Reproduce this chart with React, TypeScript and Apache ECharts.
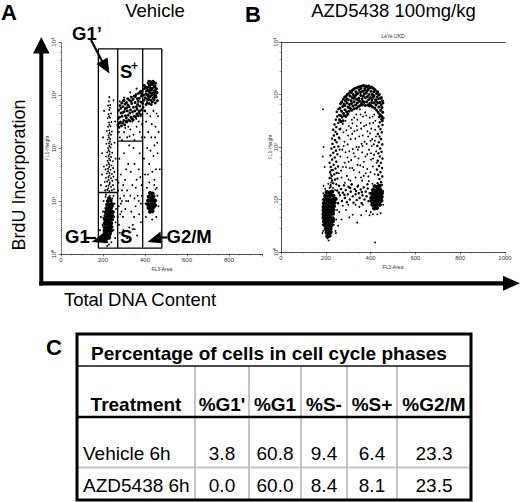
import React, { useEffect, useRef } from "react";
import * as echarts from "echarts";

const FONT = "'Liberation Sans', Arial, Helvetica, sans-serif";

// ---------- axis ticks ----------
const X_TICKS = [0, 200, 400, 600, 800, 1000];
const LOG_SUP = ["\u2070", "\u00b9", "\u00b2", "\u00b3", "\u2074"];
const PANEL_TITLES = ["Vehicle", "AZD5438 100mg/kg"];
const X_NAME = "FL3-Area";
const Y_NAME = "FL1-Height";
const B_TOP_NAME = "LeYe.UKD";

// ---------- gates of panel A (x in FL3 units, y as log10 of FL1) ----------
const GATE_X = [178, 270, 389, 480];
const GATE_LOG_Y = [0.11, 3.87];
const GATE_G1_SPLIT = 1.16;
const GATE_S_SPLIT = 2.13;

// ---------- panel A (Vehicle) events: [FL3, log10 FL1] ----------
const A_G1_BLOB: number[][] = [
  [217, 0.3], [229, 0.31],
  [211, 0.37], [222, 0.36], [233, 0.38],
  [208, 0.44], [218, 0.43], [228, 0.45], [238, 0.44],
  [207, 0.51], [213, 0.48], [222, 0.5], [232, 0.52], [240, 0.51],
  [209, 0.58], [219, 0.57], [229, 0.59], [239, 0.58],
  [210, 0.65], [215, 0.62], [225, 0.64], [235, 0.66], [243, 0.65],
  [212, 0.72], [222, 0.71], [232, 0.73], [243, 0.72],
  [214, 0.79], [219, 0.76], [229, 0.78], [239, 0.8], [246, 0.79],
  [217, 0.86], [227, 0.85], [238, 0.87],
  [220, 0.93], [231, 0.92], [242, 0.94],
  [224, 1.0], [236, 1.01], [229, 1.05],
];
const A_G2_BLOB: number[][] = [
  [424, 0.8], [436, 0.81],
  [417, 0.87], [428, 0.86], [440, 0.88],
  [414, 0.94], [420, 0.91], [431, 0.93], [442, 0.95], [448, 0.92],
  [415, 1.01], [426, 1.0], [437, 1.02], [448, 1.01],
  [418, 1.08], [429, 1.07], [440, 1.09],
  [424, 1.15], [436, 1.14],
];
const A_SPLUS_TOP: number[][] = [
  [412, 3.0], [424, 2.97], [436, 3.03], [449, 2.99], [418, 3.08], [431, 3.11],
  [444, 3.07], [455, 3.05], [409, 3.14], [422, 3.18], [435, 3.2], [447, 3.16],
  [428, 3.24], [440, 3.23], [416, 2.92], [442, 2.93],
];
const A_SPLUS_BAND: number[][] = [
  [271, 2.44], [274, 2.71], [276, 2.39], [279, 2.58], [281, 2.8], [283, 2.49],
  [286, 2.66], [288, 2.42], [289, 2.85], [273, 2.56], [285, 2.75], [278, 2.47],
  [291, 2.6], [293, 2.47], [295, 2.78], [297, 2.89], [299, 2.52], [301, 2.69],
  [303, 2.44], [305, 2.83], [307, 2.61], [309, 2.5], [294, 2.67], [300, 2.9], [306, 2.74],
  [311, 2.57], [312, 2.86], [314, 2.49], [316, 2.7], [318, 2.93], [320, 2.62],
  [322, 2.53], [324, 2.78], [326, 2.9], [328, 2.66], [313, 2.76], [319, 2.81], [329, 2.51],
  [331, 2.72], [333, 2.58], [335, 2.96], [337, 2.84], [339, 2.55], [341, 2.68],
  [343, 2.92], [345, 2.77], [347, 2.6], [349, 2.98], [334, 2.88], [344, 2.53],
  [351, 2.7], [353, 2.86], [355, 2.59], [357, 3.01], [359, 2.78], [361, 2.64],
  [363, 2.93], [365, 2.82], [367, 2.61], [369, 3.03], [354, 2.97], [362, 2.73], [368, 2.88],
  [371, 2.67], [373, 2.94], [375, 2.79], [377, 3.06], [379, 2.63], [381, 2.87],
  [383, 2.98], [385, 2.72], [387, 3.08], [389, 2.84], [374, 2.7], [384, 3.03],
  [391, 2.77], [393, 3.0], [395, 2.9], [397, 3.12], [399, 2.7], [401, 2.95],
  [403, 3.15], [405, 2.82], [407, 3.07], [409, 2.92], [396, 3.18], [404, 3.02],
  [411, 2.86], [413, 3.1], [415, 3.22], [417, 2.97], [419, 2.84], [421, 3.15],
  [423, 3.04], [425, 3.25], [427, 2.9], [429, 3.09], [431, 2.99], [433, 3.2],
  [435, 2.87], [437, 3.13], [439, 3.26], [441, 3.02], [443, 2.91], [445, 3.17],
  [447, 3.07], [449, 2.85], [451, 3.22], [453, 2.96], [455, 3.12], [457, 3.04],
  [459, 2.89], [414, 3.0], [426, 3.13], [438, 2.94], [450, 3.1], [418, 3.26],
  [442, 3.24], [430, 2.82], [446, 2.97],
];
const A_SPARSE: number[][] = [
  // G1' streak
  [210, 1.2], [220, 1.21], [230, 1.19], [242, 1.2], [252, 1.22], [225, 1.24],
  [215, 1.28], [226, 1.29], [238, 1.27], [248, 1.3], [232, 1.32],
  [208, 1.36], [220, 1.37], [232, 1.35], [244, 1.38], [227, 1.4],
  [214, 1.44], [226, 1.45], [238, 1.43], [250, 1.46], [231, 1.48],
  [218, 1.52], [230, 1.53], [242, 1.51], [224, 1.56],
  [212, 1.6], [224, 1.61], [236, 1.59], [248, 1.62], [229, 1.64],
  [218, 1.68], [230, 1.69], [240, 1.67], [226, 1.72],
  [222, 1.76], [234, 1.77], [246, 1.75], [229, 1.8],
  [214, 1.84], [226, 1.85], [238, 1.83], [231, 1.88],
  [220, 1.92], [232, 1.93], [244, 1.91], [227, 1.96],
  [224, 2.0], [236, 2.01], [230, 2.04],
  [216, 2.08], [228, 2.09], [240, 2.07], [233, 2.12],
  [222, 2.16], [234, 2.17], [228, 2.2],
  [226, 2.24], [238, 2.25], [231, 2.28],
  [218, 2.32], [230, 2.33], [242, 2.31],
  [224, 2.4], [236, 2.41], [230, 2.44],
  [228, 2.48], [240, 2.49],
  [222, 2.56], [233, 2.57], [228, 2.6],
  [226, 2.64], [238, 2.65],
  [230, 2.72], [233, 2.76],
  [224, 2.8], [234, 2.81],
  [228, 2.88], [230, 2.96],
  [195, 1.5], [200, 2.2], [260, 1.8], [258, 2.5], [190, 1.3], [205, 2.7],
  [250, 2.9], [262, 1.4], [196, 1.9], [255, 2.1], [204, 1.65], [254, 1.55],
  // G1 halo
  [195, 0.3], [198, 0.55], [200, 0.8], [203, 1.0], [250, 0.45], [253, 0.7],
  [255, 0.95], [250, 1.1], [240, 0.22], [208, 0.22], [228, 0.18], [260, 0.6],
  [190, 0.7], [245, 1.05], [212, 1.08], [232, 1.1], [185, 0.45], [262, 0.85],
  [220, 0.15], [258, 0.3], [204, 0.4], [248, 0.9], [201, 0.68], [214, 1.12],
  // S- gate
  [280, 0.4], [295, 0.7], [310, 1.0], [325, 0.5], [340, 1.3], [355, 0.9],
  [370, 1.6], [285, 1.5], [300, 1.9], [320, 1.7], [345, 2.0], [365, 1.1],
  [380, 0.6], [290, 1.2], [315, 0.3], [335, 0.8], [360, 1.4], [375, 1.9],
  [305, 1.4], [330, 1.1], [350, 1.7], [285, 0.95], [272, 1.2], [384, 1.3],
  [278, 1.8], [362, 0.35], [342, 0.55], [310, 1.6], [325, 2.05], [297, 0.45],
  [275, 0.9], [282, 1.05], [270, 0.7], [290, 1.0], [300, 1.1], [320, 1.0],
  [350, 1.05], [370, 1.0], [385, 1.1], [276, 0.55], [288, 0.8], [380, 0.95],
  [372, 0.75], [274, 1.35], [282, 0.75], [296, 1.3], [315, 1.2], [332, 1.55],
  [356, 1.25], [378, 1.45], [306, 0.85], [348, 0.7],
  // lower S+
  [280, 2.2], [300, 2.3], [315, 2.2], [330, 2.35], [345, 2.25], [360, 2.4],
  [375, 2.3], [290, 2.15], [350, 2.15], [370, 2.5], [320, 2.4], [340, 2.5],
  [385, 2.45], [300, 2.95], [330, 3.05], [360, 3.12], [280, 2.88], [385, 2.2],
  [310, 2.52], [276, 2.3], [326, 2.22], [358, 2.55], [380, 2.6], [306, 2.38],
  // G2/M column
  [400, 1.5], [420, 1.7], [445, 1.4], [460, 1.9], [410, 2.0], [430, 2.2],
  [450, 2.4], [405, 2.5], [425, 2.6], [465, 2.3], [440, 1.85], [415, 2.3],
  [455, 2.65], [395, 1.8], [435, 1.55], [470, 1.6], [400, 2.7], [445, 2.05],
  [420, 1.35], [456, 1.25], [432, 2.45], [410, 2.65], [448, 2.2], [462, 2.6],
  [398, 2.2], [452, 1.6], [426, 1.95], [414, 1.5], [440, 2.7], [458, 2.1],
  [404, 0.7], [409, 1.25], [454, 0.7], [459, 1.1], [444, 1.3], [402, 0.95],
  [464, 0.9], [434, 0.65], [450, 1.22],
];

// ---------- panel B (AZD5438) events ----------
const B_G1_BLOB: number[][] = [
  [208, 0.3], [216, 0.31],
  [204, 0.37], [214, 0.36], [222, 0.38],
  [200, 0.44], [210, 0.43], [220, 0.45],
  [196, 0.51], [206, 0.5], [216, 0.52], [226, 0.51],
  [192, 0.58], [202, 0.57], [212, 0.59], [222, 0.58], [232, 0.59],
  [190, 0.65], [200, 0.64], [210, 0.66], [220, 0.65], [231, 0.64],
  [190, 0.72], [200, 0.71], [210, 0.73], [220, 0.72], [232, 0.73],
  [190, 0.79], [201, 0.78], [212, 0.8], [223, 0.79], [234, 0.8],
  [191, 0.86], [202, 0.85], [213, 0.87], [224, 0.86], [236, 0.87],
  [192, 0.93], [204, 0.92], [216, 0.94], [228, 0.93], [239, 0.94],
  [194, 1.0], [206, 0.99], [218, 1.01], [230, 1.0], [242, 1.01],
  [198, 1.07], [210, 1.06], [222, 1.08], [234, 1.07],
  [204, 1.14], [216, 1.13], [228, 1.15],
];
const B_G2_BLOB: number[][] = [
  [416, 0.83], [428, 0.84],
  [408, 0.9], [419, 0.89], [430, 0.91], [441, 0.9],
  [405, 0.97], [416, 0.96], [427, 0.98], [438, 0.97], [448, 0.98],
  [405, 1.04], [416, 1.03], [427, 1.05], [438, 1.04], [449, 1.05],
  [407, 1.11], [418, 1.1], [429, 1.12], [440, 1.11], [450, 1.12],
  [411, 1.18], [422, 1.17], [433, 1.19], [444, 1.18],
  [418, 1.25], [430, 1.24], [441, 1.26],
];
const B_ARCH_BAND: number[][] = [
  [261, 2.52], [263, 2.74], [265, 2.6], [266, 2.83], [268, 2.48], [270, 2.68],
  [271, 2.86], [273, 2.57], [275, 2.77], [277, 2.5], [278, 2.91], [279, 2.64],
  [281, 2.82], [283, 2.6], [284, 2.95], [286, 2.71], [288, 2.88], [289, 2.58],
  [291, 2.97], [293, 2.67], [295, 2.84], [296, 3.0], [298, 2.63], [299, 2.76], [285, 2.79], [294, 2.92],
  [301, 2.9], [303, 3.02], [304, 2.68], [306, 2.81], [308, 2.97], [309, 3.06],
  [311, 2.73], [313, 2.88], [314, 3.04], [316, 2.7], [318, 2.94], [319, 3.08], [305, 2.75], [315, 2.83],
  [321, 2.78], [322, 3.0], [324, 3.1], [326, 2.86], [327, 2.73], [329, 2.96],
  [331, 3.12], [333, 2.8], [334, 3.05], [336, 2.91], [338, 2.74], [339, 3.13], [325, 2.93], [335, 2.99],
  [341, 2.84], [342, 3.02], [344, 3.14], [346, 2.77], [347, 2.93], [349, 3.08],
  [351, 2.87], [352, 3.15], [354, 2.79], [356, 2.98], [357, 3.11], [359, 2.83], [345, 2.9], [355, 3.04],
  [361, 3.16], [362, 2.92], [364, 2.8], [366, 3.06], [367, 2.97], [369, 3.17],
  [371, 2.85], [372, 3.01], [374, 3.12], [376, 2.79], [377, 2.94], [379, 3.16], [365, 2.87], [375, 3.08],
  [381, 3.03], [382, 2.86], [384, 3.15], [386, 2.96], [387, 2.8], [389, 3.1],
  [391, 2.9], [392, 3.16], [394, 3.0], [396, 2.83], [397, 3.13], [399, 2.94], [385, 3.07], [395, 2.78],
  [401, 3.06], [402, 2.79], [404, 3.14], [406, 2.9], [407, 3.0], [409, 2.76],
  [411, 3.12], [412, 2.95], [414, 3.05], [416, 2.84], [417, 3.1], [419, 2.74], [405, 2.85], [415, 2.98],
  [421, 3.08], [422, 2.9], [424, 2.8], [426, 3.02], [427, 2.7], [429, 2.95],
  [431, 3.05], [432, 2.84], [434, 2.66], [436, 2.99], [437, 2.76], [439, 3.0], [425, 2.87], [435, 2.92],
  [441, 2.62], [442, 2.85], [444, 2.93], [445, 2.7], [447, 2.8], [448, 2.94],
  [450, 2.58], [451, 2.75], [453, 2.88], [454, 2.66], [455, 2.84], [456, 2.55], [446, 2.6], [452, 2.5],
];
const B_WALLS: number[][] = [
  // left wall
  [221, 1.27], [233, 1.31], [247, 1.29], [228, 1.36], [241, 1.38], [217, 1.41],
  [252, 1.4], [226, 1.45], [238, 1.48], [219, 1.52], [249, 1.51], [231, 1.56],
  [243, 1.59], [222, 1.62], [255, 1.63], [235, 1.66], [217, 1.7], [247, 1.72],
  [228, 1.76], [240, 1.8], [221, 1.84], [252, 1.86], [233, 1.89], [245, 1.93],
  [225, 1.97], [238, 2.0], [256, 2.01], [230, 2.06], [248, 2.09], [241, 2.13],
  [228, 2.16], [259, 2.18], [236, 2.22], [250, 2.25], [243, 2.29], [233, 2.33],
  [262, 2.34], [247, 2.38], [239, 2.43], [256, 2.46], [265, 2.5], [245, 2.52],
  [251, 2.58], [260, 2.61], [249, 2.67], [256, 2.72],
  // right wall
  [431, 1.31], [447, 1.33], [439, 1.39], [452, 1.44], [434, 1.47], [444, 1.52],
  [428, 1.57], [451, 1.6], [438, 1.64], [446, 1.7], [432, 1.74], [453, 1.78],
  [441, 1.82], [435, 1.88], [449, 1.91], [443, 1.97], [430, 2.02], [452, 2.05],
  [437, 2.09], [446, 2.15], [440, 2.2], [432, 2.25], [450, 2.28], [444, 2.34],
  [436, 2.39], [453, 2.42], [441, 2.47], [448, 2.53], [438, 2.57],
  // bottom band G1 -> G2/M
  [246, 1.02], [251, 1.17], [255, 0.93], [259, 1.26], [263, 1.08], [268, 1.2],
  [272, 0.97], [276, 1.13], [281, 1.27], [285, 1.03], [289, 1.18], [294, 0.95],
  [298, 1.1], [302, 1.24], [307, 1.0], [311, 1.15], [316, 1.29], [320, 1.06],
  [324, 0.94], [329, 1.2], [333, 1.1], [338, 0.99], [342, 1.25], [347, 1.12],
  [351, 1.03], [356, 1.19], [360, 0.93], [364, 1.08], [369, 1.23], [373, 1.0],
  [378, 1.15], [382, 1.06], [387, 1.21], [391, 0.97], [396, 1.12], [399, 1.02],
  [258, 1.13], [283, 1.09], [309, 1.22], [335, 1.16], [361, 1.14], [386, 1.29],
];
const B_SPARSE: number[][] = [
  [270, 1.42], [290, 1.62], [310, 1.36], [330, 1.82], [350, 1.52], [370, 1.72],
  [390, 1.44], [410, 1.63], [280, 2.02], [300, 2.22], [320, 1.96], [340, 2.32],
  [360, 2.06], [380, 2.42], [400, 2.12], [420, 2.33], [276, 2.44], [296, 2.6],
  [316, 2.52], [336, 2.62], [356, 2.46], [376, 2.66], [396, 2.56], [416, 2.62],
  [265, 1.82], [285, 1.32], [305, 1.92], [325, 1.56], [345, 1.27], [365, 2.22],
  [385, 1.86], [405, 2.02], [425, 1.92], [262, 2.16], [302, 1.72], [362, 1.36],
  [397, 2.26], [332, 2.16], [352, 2.72], [312, 2.36], [382, 2.06], [342, 1.66],
  [292, 2.32], [272, 2.56], [412, 2.46], [322, 2.72], [367, 1.62], [402, 1.76],
  [288, 1.9], [318, 1.6], [348, 2.0], [378, 1.5], [408, 1.3], [415, 1.85],
  [258, 1.5],
  [268, 1.55], [274, 1.95], [279, 2.28], [284, 1.7], [288, 2.5], [294, 1.45],
  [298, 2.05], [303, 2.4], [307, 1.6], [311, 2.15], [314, 1.28], [319, 2.45],
  [324, 1.88], [328, 2.3], [333, 1.42], [337, 2.0], [341, 2.52], [346, 1.78],
  [349, 2.2], [354, 1.65], [358, 2.35], [362, 1.9], [366, 2.58], [369, 1.45],
  [373, 2.1], [377, 1.82], [381, 2.6], [385, 1.58], [389, 2.2], [393, 1.95],
  [396, 2.45], [399, 1.52], [403, 2.35], [407, 2.15], [411, 1.78], [414, 2.05],
  [418, 1.48], [421, 2.5], [424, 2.2], [427, 1.7], [283, 2.1], [297, 1.8],
  [313, 1.75], [327, 2.56], [343, 1.95], [357, 1.42], [371, 2.4], [386, 2.3],
  [401, 1.88], [419, 2.12], [276, 1.62], [301, 1.38], [338, 2.4], [364, 2.02],
  [392, 1.35], [409, 2.58], [262, 1.95], [266, 2.35], [355, 2.62], [318, 2.25],
  // around G1
  [208, 0.26], [213, 0.22], [201, 0.3], [188, 0.4], [186, 0.52], [186, 0.68],
  [186, 0.84], [187, 1.0], [189, 1.12], [246, 0.62], [250, 0.8], [249, 1.0],
  [241, 1.18], [232, 1.22], [216, 1.22], [226, 0.44], [236, 0.52], [221, 0.3],
  [197, 1.2], [211, 1.3], [190, 1.26], [185, 0.36], [243, 0.4],
  [222, 1.24], [223, 1.32], [224, 1.4], [222, 1.48], [224, 1.56],
  // around G2/M
  [400, 0.76], [445, 0.74], [456, 0.9], [456, 1.16], [398, 1.12], [430, 0.72],
  [410, 0.72], [452, 1.28],
  // below the band
  [260, 0.76], [290, 0.8], [320, 0.71], [350, 0.86], [380, 0.78], [270, 0.62],
  [305, 0.66], [340, 0.56], [300, 0.9], [365, 0.9], [255, 0.5], [395, 0.7],
  [245, 0.36], [276, 0.88], [333, 0.9], [358, 0.7],
  // strays
  [420, 0.18], [187, 2.72], [186, 1.82], [195, 1.62], [190, 2.0],
];

// ---------- table C ----------
const TABLE_TITLE = "Percentage of cells in cell cycle phases";
const TABLE_HEADERS = ["Treatment", "%G1'", "%G1", "%S-", "%S+", "%G2/M"];
const TREATMENTS = ["Vehicle 6h", "AZD5438 6h"];
const PCT_G1_PRIME = [3.8, 0.0];
const PCT_G1 = [60.8, 60.0];
const PCT_S_NEG = [9.4, 8.4];
const PCT_S_POS = [6.4, 8.1];
const PCT_G2M = [23.3, 23.5];

const toPts = (arr: number[][]) => arr.map(([x, l]) => [x, Math.pow(10, l)]);

function txt(text: string, x: number, baseline: number, fs: number, bold = false, align = "left") {
  return {
    type: "text",
    x,
    y: baseline - 0.35 * fs,
    z: 100,
    style: {
      text,
      fontSize: fs,
      fontFamily: FONT,
      fontWeight: bold ? "bold" : "normal",
      fill: "#000",
      align,
      verticalAlign: "middle",
    },
  };
}
function seg(x1: number, y1: number, x2: number, y2: number, w: number, color = "#000") {
  return { type: "line", z: 100, shape: { x1, y1, x2, y2 }, style: { stroke: color, lineWidth: w } };
}
function tri(points: number[][]) {
  return { type: "polygon", z: 100, shape: { points }, style: { fill: "#000" } };
}

function xAxisCfg(gridIndex: number, max: number) {
  return {
    type: "value",
    gridIndex,
    min: 0,
    max,
    interval: 200,
    axisLine: { show: true, onZero: false, lineStyle: { color: "#222", width: 0.8 } },
    axisTick: { show: true, length: 2.5, lineStyle: { color: "#222", width: 0.6 } },
    minorTick: { show: true, splitNumber: 4, length: 1.5, lineStyle: { color: "#555", width: 0.5 } },
    axisLabel: {
      fontSize: 6,
      color: "#333",
      margin: 3,
      formatter: (v: number) => (X_TICKS.includes(v) ? String(v) : ""),
    },
    splitLine: { show: false },
    name: X_NAME,
    nameLocation: "middle",
    nameGap: 12,
    nameTextStyle: { fontSize: 5, color: "#333" },
  };
}
function yAxisCfg(gridIndex: number, dotted: boolean, labelMargin: number, nameGap: number) {
  return {
    type: "log",
    logBase: 10,
    gridIndex,
    min: 1,
    max: 10000,
    axisLine: {
      show: true,
      onZero: false,
      lineStyle: { color: dotted ? "#555" : "#222", width: dotted ? 1 : 0.8, type: dotted ? "dotted" : "solid" },
    },
    axisTick: { show: true, length: 2.5, lineStyle: { color: "#333", width: 0.6 } },
    minorTick: { show: true, splitNumber: 5, length: 1.5, lineStyle: { color: "#555", width: 0.5 } },
    axisLabel: {
      rotate: 90,
      fontSize: 6,
      color: "#333",
      margin: labelMargin,
      formatter: (v: number) => "10" + LOG_SUP[Math.round(Math.log10(v))],
    },
    splitLine: { show: false },
    name: Y_NAME,
    nameLocation: "middle",
    nameGap,
    nameTextStyle: { fontSize: 5, color: "#333" },
  };
}

function scatter(data: number[][], xAxisIndex: number, yAxisIndex: number, size: number) {
  return {
    type: "scatter",
    xAxisIndex,
    yAxisIndex,
    data: toPts(data),
    symbol: "circle",
    symbolSize: size,
    itemStyle: { color: "#000", opacity: 1 },
    silent: true,
    z: 2,
  };
}
function gateLine(points: number[][]) {
  return {
    type: "line",
    xAxisIndex: 0,
    yAxisIndex: 0,
    data: points,
    symbol: "none",
    lineStyle: { color: "#000", width: 1.3 },
    silent: true,
    z: 5,
  };
}

function buildOption() {
  const [gx0, gx1, gx2, gx3] = GATE_X;
  const yb = Math.pow(10, GATE_LOG_Y[0]);
  const yt = Math.pow(10, GATE_LOG_Y[1]);
  const yG1 = Math.pow(10, GATE_G1_SPLIT);
  const yS = Math.pow(10, GATE_S_SPLIT);

  const g: any[] = [];
  // panel letters and titles
  g.push(txt("A", 1, 20, 22, true));
  g.push(txt("B", 245, 22, 22, true));
  g.push(txt("C", 46, 355, 22, true));
  g.push(txt(PANEL_TITLES[0], 155, 16.5, 18.5, false, "center"));
  g.push(txt(PANEL_TITLES[1], 393.5, 16.5, 18.5, false, "center"));
  // big axis arrows
  g.push(seg(41.3, 285.5, 41.3, 50, 4));
  g.push(tri([[41.3, 37], [33, 53.5], [49.6, 53.5]]));
  g.push(seg(39.3, 283.3, 505, 283.3, 4.3));
  g.push(tri([[520, 283.3], [503, 275.8], [503, 290.8]]));
  g.push({
    type: "text",
    x: 18.5,
    y: 175,
    rotation: Math.PI / 2,
    z: 100,
    style: { text: "BrdU Incorporation", fontSize: 18, fontFamily: FONT, fill: "#000", align: "center", verticalAlign: "middle" },
  });
  g.push(txt("Total DNA Content", 140, 306, 18.5, false, "center"));
  // gate labels
  g.push(txt("G1\u2019", 72, 40, 18.5, true));
  g.push(seg(91, 40, 102, 61, 2.2));
  g.push(tri([[109.5, 73.5], [96.5, 64], [107.5, 57.5]]));
  g.push(txt("S", 120, 78, 18.5, true));
  g.push(txt("+", 131, 70, 12, true));
  g.push(txt("G1", 65, 243, 18.5, true));
  g.push(seg(86, 238, 96, 238, 2.2));
  g.push(tri([[91.7, 242], [105, 231.5], [108.3, 243.3]]));
  g.push(txt("S", 120, 243, 18.5, true));
  g.push(txt("-", 131.5, 233, 13, true));
  g.push(txt("G2/M", 166.5, 243, 18.5, true));
  g.push(seg(157, 237.5, 167, 237.5, 2.2));
  g.push(tri([[147.5, 242], [160.5, 231.5], [161.5, 243.3]]));

  // table
  const colEdges = [77, 195, 249, 301, 347, 397, 471];
  const top = 334, titleBottom = 366, headBottom = 417, rowSep = 467.5, bottom = 500;
  const gray = "#c4c4c4";
  for (let i = 1; i < colEdges.length - 1; i++) g.push(seg(colEdges[i], titleBottom, colEdges[i], bottom, 2, gray));
  g.push(seg(colEdges[0], rowSep, colEdges[6], rowSep, 2, gray));
  g.push(seg(colEdges[0], titleBottom, colEdges[6], titleBottom, 1.6, "#111"));
  g.push(seg(colEdges[0], headBottom, colEdges[6], headBottom, 2.4, "#000"));
  g.push({
    type: "rect",
    z: 101,
    shape: { x: colEdges[0], y: top, width: colEdges[6] - colEdges[0], height: bottom - top },
    style: { fill: "none", stroke: "#000", lineWidth: 3 },
  });
  g.push(txt(TABLE_TITLE, 91, 360, 19, true));
  TABLE_HEADERS.forEach((h, i) => {
    g.push(txt(h, (colEdges[i] + colEdges[i + 1]) / 2, 411, 19, true, "center"));
  });
  const rowBase = [460, 492];
  const cols = [PCT_G1_PRIME, PCT_G1, PCT_S_NEG, PCT_S_POS, PCT_G2M];
  TREATMENTS.forEach((t, r) => {
    g.push(txt(t, 83, rowBase[r], 19, false, "left"));
    cols.forEach((c, i) => {
      g.push(txt(c[r].toFixed(1), (colEdges[i + 1] + colEdges[i + 2]) / 2, rowBase[r], 19, false, "center"));
    });
  });

  return {
    animation: false,
    textStyle: { fontFamily: FONT },
    grid: [
      { left: 61, top: 42, width: 201.6, height: 212 },
      { left: 281, top: 42, width: 224, height: 210 },
    ],
    xAxis: [
      xAxisCfg(0, 960),
      xAxisCfg(1, 1000),
      {
        type: "value",
        gridIndex: 1,
        position: "top",
        min: 0,
        max: 1000,
        axisLine: { show: true, onZero: false, lineStyle: { color: "#222", width: 0.8 } },
        axisTick: { show: false },
        axisLabel: { show: false },
        splitLine: { show: false },
        name: B_TOP_NAME,
        nameLocation: "middle",
        nameGap: 4,
        nameTextStyle: { fontSize: 5, color: "#333" },
      },
    ],
    yAxis: [yAxisCfg(0, true, 4, 12), yAxisCfg(1, false, 2, 9)],
    series: [
      scatter(A_SPARSE, 0, 0, 1.8),
      scatter(A_SPLUS_BAND, 0, 0, 2.9),
      scatter(A_G1_BLOB, 0, 0, 4.2),
      scatter(A_G2_BLOB, 0, 0, 4.2),
      scatter(A_SPLUS_TOP, 0, 0, 3.4),
      gateLine([[gx0, yb], [gx3, yb], [gx3, yt], [gx0, yt], [gx0, yb]]),
      gateLine([[gx1, yb], [gx1, yt]]),
      gateLine([[gx2, yb], [gx2, yt]]),
      gateLine([[gx0, yG1], [gx1, yG1]]),
      gateLine([[gx1, yS], [gx2, yS]]),
      scatter(B_SPARSE, 1, 1, 1.8),
      scatter(B_WALLS, 1, 1, 2.5),
      scatter(B_ARCH_BAND, 1, 1, 3.0),
      scatter(B_G1_BLOB, 1, 1, 4.3),
      scatter(B_G2_BLOB, 1, 1, 4.3),
    ],
    graphic: { elements: g },
  };
}

export default function App() {
  const ref = useRef<HTMLDivElement>(null);
  useEffect(() => {
    document.body.style.margin = "0";
    const chart = echarts.init(ref.current as HTMLDivElement, null, { renderer: "svg" });
    chart.setOption(buildOption() as any);
    return () => chart.dispose();
  }, []);
  return (
    <div
      ref={ref}
      style={{ position: "absolute", left: 0, top: 0, width: 520, height: 502, background: "#fff" }}
    />
  );
}
